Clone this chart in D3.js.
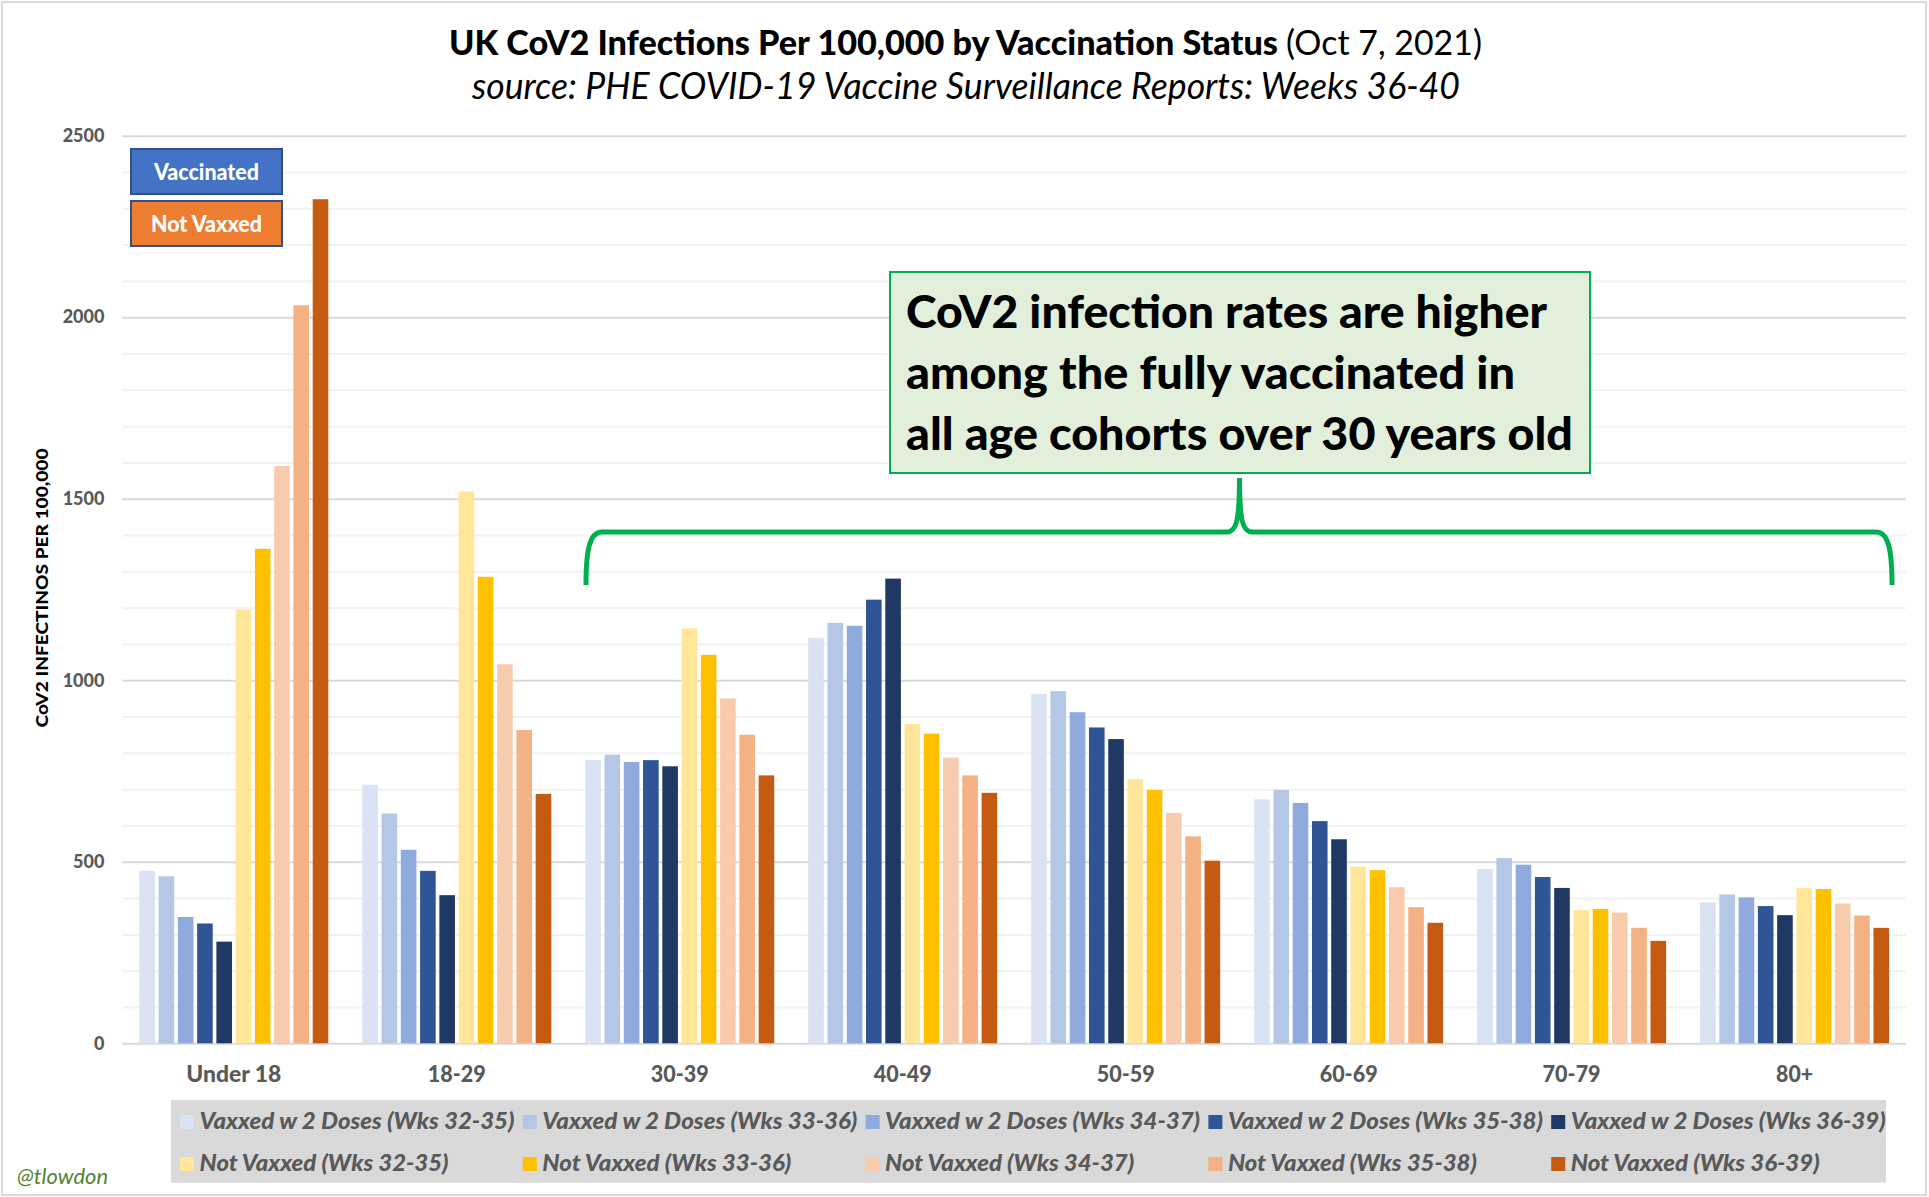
<!DOCTYPE html>
<html>
<head>
<meta charset="utf-8">
<script src="https://cdn.jsdelivr.net/npm/d3@7"></script>
<style>
  html, body { margin: 0; padding: 0; background: #fff; }
  svg { display: block; }
  text { font-family: Lato, "Open Sans", sans-serif; }
</style>
</head>
<body>
<svg></svg>
<script>
var categories = ["Under 18", "18-29", "30-39", "40-49", "50-59", "60-69", "70-79", "80+"];
var categoryWidths = [95, 58, 58, 58, 58, 58, 58, 37];

var vaxxedWk3235 = [475, 712, 780, 1117, 962, 672, 480, 388];
var vaxxedWk3336 = [460, 633, 795, 1158, 970, 698, 510, 410];
var vaxxedWk3437 = [348, 533, 775, 1150, 912, 662, 492, 402];
var vaxxedWk3538 = [330, 475, 780, 1222, 870, 612, 458, 378];
var vaxxedWk3639 = [280, 408, 763, 1280, 838, 562, 428, 353];
var notVaxxedWk3235 = [1195, 1520, 1143, 880, 728, 487, 367, 428];
var notVaxxedWk3336 = [1362, 1285, 1070, 853, 698, 477, 370, 425];
var notVaxxedWk3437 = [1590, 1044, 950, 787, 635, 430, 360, 385];
var notVaxxedWk3538 = [2033, 863, 850, 738, 570, 375, 318, 352];
var notVaxxedWk3639 = [2325, 687, 738, 690, 503, 332, 282, 318];

var seriesNames = [
  "Vaxxed w 2 Doses (Wks 32-35)", "Vaxxed w 2 Doses (Wks 33-36)", "Vaxxed w 2 Doses (Wks 34-37)",
  "Vaxxed w 2 Doses (Wks 35-38)", "Vaxxed w 2 Doses (Wks 36-39)",
  "Not Vaxxed (Wks 32-35)", "Not Vaxxed (Wks 33-36)", "Not Vaxxed (Wks 34-37)",
  "Not Vaxxed (Wks 35-38)", "Not Vaxxed (Wks 36-39)"
];
var seriesValues = [
  vaxxedWk3235, vaxxedWk3336, vaxxedWk3437, vaxxedWk3538, vaxxedWk3639,
  notVaxxedWk3235, notVaxxedWk3336, notVaxxedWk3437, notVaxxedWk3538, notVaxxedWk3639
];
var seriesColors = [
  "#dae3f3", "#b4c7e7", "#8faadc", "#2f5597", "#1f3864",
  "#ffe699", "#ffc000", "#f8cbad", "#f4b183", "#c55a11"
];
var majorTicks = [0, 500, 1000, 1500, 2000, 2500];
var minorTicks = d3.range(0, 2501, 100).filter(function(d) {return d % 500 !== 0;});
var calloutLines = [
  "CoV2 infection rates are higher",
  "among the fully vaccinated in",
  "all age cohorts over 30 years old"
];
var calloutWidths = [641, 609, 667];

var svgWidth = 1929, svgHeight = 1197;
var plotLeft = 122.4, plotRight = 1906, plotTop = 135.7, plotBottom = 1043.3;

var svg = d3.select("svg")
            .attr("width", svgWidth)
            .attr("height", svgHeight);

// chart frame
svg.append("rect")
   .attr("x", 2).attr("y", 2)
   .attr("width", svgWidth - 5).attr("height", svgHeight - 4)
   .attr("fill", "#fff")
   .attr("stroke", "#d9d9d9")
   .attr("stroke-width", 2);

// scales
var x0 = d3.scaleBand().domain(categories).range([plotLeft, plotRight]).paddingInner(0.1525).paddingOuter(0.076);
var x1 = d3.scaleBand().domain(d3.range(seriesNames.length)).range([0, x0.bandwidth()]).paddingInner(0.19);
var y = d3.scaleLinear().domain([0, 2500]).range([plotBottom, plotTop]);

// gridlines
function grid(ticks, color) {
  var g = svg.append("g")
             .attr("transform", "translate(" + plotLeft + ",0)")
             .call(d3.axisLeft(y).tickValues(ticks).tickSize(-(plotRight - plotLeft)).tickFormat(""));
  g.select(".domain").remove();
  g.selectAll("line").attr("stroke", color).attr("stroke-width", 2);
}
grid(minorTicks, "#f2f2f2");
grid(majorTicks, "#d9d9d9");

// bars
var barGroups = svg.selectAll(".series")
                   .data(seriesValues)
                   .enter()
                   .append("g")
                   .attr("class", "series")
                   .attr("fill", function(d, i) {return seriesColors[i];})
                   .attr("transform", function(d, i) {return "translate(" + x1(i) + ",0)";});

barGroups.selectAll("rect")
         .data(function(d) {return d;})
         .enter()
         .append("rect")
         .attr("x", function(d, i) {return x0(categories[i]);})
         .attr("y", function(d) {return y(d);})
         .attr("width", x1.bandwidth())
         .attr("height", function(d) {return y(0) - y(d);});

// axes
var yAxis = svg.append("g")
               .attr("transform", "translate(" + (plotLeft - 18) + ",0)")
               .call(d3.axisLeft(y).tickValues(majorTicks).tickFormat(d3.format("d")).tickSize(0).tickPadding(0));
yAxis.select(".domain").remove();
yAxis.selectAll("text")
     .style("font-family", "Lato")
     .style("font-size", "18px")
     .style("font-weight", "900")
     .attr("fill", "#595959");

var xAxis = svg.append("g")
               .attr("transform", "translate(0," + plotBottom + ")")
               .call(d3.axisBottom(x0).tickSize(0).tickPadding(0));
xAxis.select(".domain").remove();
xAxis.selectAll("text")
     .attr("y", 39)
     .attr("dy", 0)
     .attr("textLength", function(d, i) {return categoryWidths[i];})
     .attr("lengthAdjust", "spacingAndGlyphs")
     .style("font-family", "Lato")
     .style("font-size", "23px")
     .style("font-weight", "900")
     .attr("fill", "#595959");

svg.append("text")
   .attr("transform", "translate(48,588) rotate(-90)")
   .attr("text-anchor", "middle")
   .attr("font-size", 17)
   .attr("font-weight", 900)
   .attr("textLength", 279)
   .attr("lengthAdjust", "spacingAndGlyphs")
   .text("CoV2 INFECTINOS PER 100,000");

// title
svg.append("text")
   .attr("x", 449).attr("y", 55)
   .attr("font-size", 35)
   .attr("font-weight", 900)
   .attr("textLength", 829)
   .attr("lengthAdjust", "spacingAndGlyphs")
   .text("UK CoV2 Infections Per 100,000 by Vaccination Status");
svg.append("text")
   .attr("x", 1286).attr("y", 55)
   .attr("font-size", 35)
   .attr("textLength", 196)
   .attr("lengthAdjust", "spacingAndGlyphs")
   .text("(Oct 7, 2021)");
svg.append("text")
   .attr("x", 472).attr("y", 99)
   .attr("font-size", 36)
   .attr("font-style", "italic")
   .attr("textLength", 988)
   .attr("lengthAdjust", "spacingAndGlyphs")
   .text("source: PHE COVID-19 Vaccine Surveillance Reports: Weeks 36-40");

// vaccinated / not vaxxed key boxes
var keyBoxes = [
  {label: "Vaccinated", color: "#4472c4", top: 149, len: 105},
  {label: "Not Vaxxed", color: "#ed7d31", top: 201, len: 111}
];
var keys = svg.selectAll(".key").data(keyBoxes).enter().append("g").attr("class", "key");
keys.append("rect")
    .attr("x", 131).attr("y", function(d) {return d.top;})
    .attr("width", 151).attr("height", 45)
    .attr("fill", function(d) {return d.color;})
    .attr("stroke", "#2f528f")
    .attr("stroke-width", 2);
keys.append("text")
    .attr("x", 206.5).attr("y", function(d) {return d.top + 31;})
    .attr("text-anchor", "middle")
    .attr("fill", "#fff")
    .attr("font-size", 23)
    .attr("font-weight", 900)
    .attr("textLength", function(d) {return d.len;})
    .attr("lengthAdjust", "spacingAndGlyphs")
    .text(function(d) {return d.label;});

// callout
svg.append("rect")
   .attr("x", 890).attr("y", 272)
   .attr("width", 700).attr("height", 201)
   .attr("fill", "#e2efda")
   .attr("stroke", "#00b050")
   .attr("stroke-width", 2);
svg.selectAll(".callout")
   .data(calloutLines)
   .enter()
   .append("text")
   .attr("class", "callout")
   .attr("x", 906)
   .attr("y", function(d, i) {return 328 + i * 61;})
   .attr("font-size", 46)
   .attr("font-weight", 900)
   .attr("fill", "#000")
   .attr("textLength", function(d, i) {return calloutWidths[i];})
   .attr("lengthAdjust", "spacingAndGlyphs")
   .text(function(d) {return d;});

// brace
svg.append("path")
   .attr("d", "M586,585 C586,552 589,532 602,532 L1227,532 C1236,532 1239.5,522 1239.5,478 C1239.5,522 1243,532 1252,532 L1876,532 C1889,532 1892,552 1892,585")
   .attr("fill", "none")
   .attr("stroke", "#00b050")
   .attr("stroke-width", 5);

// legend
svg.append("rect")
   .attr("x", 171).attr("y", 1100)
   .attr("width", 1715).attr("height", 82.7)
   .attr("fill", "#d9d9d9");

var legendItems = svg.selectAll(".legend-item")
                     .data(seriesNames)
                     .enter()
                     .append("g")
                     .attr("class", "legend-item")
                     .attr("transform", function(d, i) {
                       return "translate(" + (180 + (i % 5) * 342.8) + "," + (i < 5 ? 1115 : 1157) + ")";
                     });
legendItems.append("rect")
           .attr("width", 14).attr("height", 14)
           .attr("fill", function(d, i) {return seriesColors[i];});
legendItems.append("text")
           .attr("x", 19.5).attr("y", 14)
           .attr("font-size", 23)
           .attr("font-weight", 900)
           .attr("font-style", "italic")
           .attr("fill", "#595959")
           .attr("textLength", function(d, i) {return i < 5 ? 315 : 249;})
           .attr("lengthAdjust", "spacingAndGlyphs")
           .text(function(d) {return d;});

// handle
svg.append("text")
   .attr("x", 17).attr("y", 1184)
   .attr("font-size", 21)
   .attr("font-style", "italic")
   .attr("fill", "#548235")
   .attr("textLength", 91)
   .attr("lengthAdjust", "spacingAndGlyphs")
   .text("@tlowdon");
</script>
</body>
</html>
